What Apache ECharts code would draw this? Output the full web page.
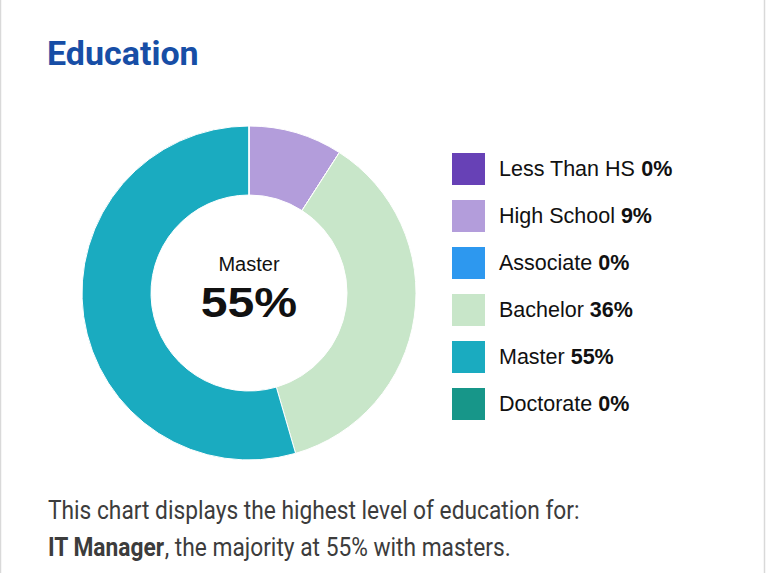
<!DOCTYPE html>
<html>
<head>
<meta charset="utf-8">
<script src="https://cdn.jsdelivr.net/npm/echarts@6/dist/echarts.min.js"></script>
<style>
html,body{margin:0;padding:0;background:#fff;}
#chart{width:768px;height:573px;}
</style>
</head>
<body>
<div id="chart"></div>
<script>
// ---- data ----
var titleText = 'Education';
var categories = ['Less Than HS', 'High School', 'Associate', 'Bachelor', 'Master', 'Doctorate'];
var values = [0, 9.1, 0, 36.4, 54.5, 0];
var colors = ['#6741b6', '#b39ddb', '#2d98ef', '#c8e6c9', '#1aabc0', '#179689'];
var occupation = 'IT Manager';
var captionLine1 = 'This chart displays the highest level of education for:';

function pct(v) { return Math.round(v) + '%'; }
var maxIdx = 0;
values.forEach(function (v, i) { if (v > values[maxIdx]) maxIdx = i; });
var topName = categories[maxIdx];
var topPct = pct(values[maxIdx]);
var degreeWord = topName.toLowerCase() + 's';

var chart = echarts.init(document.getElementById('chart'), null, { renderer: 'svg' });
var option = {
  backgroundColor: '#ffffff',
  animation: false,
  legend: {
    orient: 'vertical',
    left: 445,
    top: 146,
    itemWidth: 35,
    itemHeight: 34,
    itemGap: 11,
    icon: 'rect',
    selectedMode: false,
    data: categories,
    formatter: function (name) {
      var i = categories.indexOf(name);
      return '{n|' + name + ' }{b|' + pct(values[i]) + '}';
    },
    textStyle: {
      padding: [0, 0, 0, 8],
      rich: {
        n: { fontFamily: 'Liberation Sans', fontSize: 21.5, lineHeight: 22, color: '#111' },
        b: { fontFamily: 'Liberation Sans', fontSize: 21.5, lineHeight: 22, fontWeight: 'bold', color: '#111' }
      }
    }
  },
  series: [{
    type: 'pie',
    center: [249, 293],
    radius: [98, 167],
    startAngle: 90,
    clockwise: true,
    silent: true,
    label: { show: false },
    labelLine: { show: false },
    itemStyle: { borderColor: '#ffffff', borderWidth: 1 },
    data: categories.map(function (c, i) {
      return { name: c, value: values[i], itemStyle: { color: colors[i] } };
    })
  }],
  graphic: [
    { type: 'rect', shape: { x: 0.5, y: -2, width: 764, height: 580 }, style: { fill: 'none', stroke: '#d9d9d9', lineWidth: 1.5 } },
    { type: 'text', style: { x: 47, y: 53, text: titleText, font: 'bold 34px Roboto', fill: '#174ea6', textVerticalAlign: 'middle' } },
    { type: 'text', style: { x: 249, y: 264, text: topName, font: '20px "Liberation Sans"', fill: '#111', textAlign: 'center', textVerticalAlign: 'middle' } },
    { type: 'text', x: 249, y: 302, scaleX: 1.12, style: { x: 0, y: 0, text: topPct, font: 'bold 43px "Liberation Sans"', fill: '#111', textAlign: 'center', textVerticalAlign: 'middle' } },
    { type: 'text', x: 48, y: 510, scaleX: 0.875, style: { x: 0, y: 0, text: captionLine1, font: '26px Roboto', fill: '#3c3c3c', textVerticalAlign: 'middle' } },
    { type: 'text', x: 48, y: 547, scaleX: 0.875, style: { x: 0, y: 0, text: '{b|' + occupation + '}{n|, the majority at ' + topPct + ' with ' + degreeWord + '.}', textVerticalAlign: 'middle',
      rich: { b: { fontFamily: 'Roboto', fontSize: 26, fontWeight: 'bold', fill: '#3c3c3c' }, n: { fontFamily: 'Roboto', fontSize: 26, fill: '#3c3c3c' } } } }
  ]
};
chart.setOption(option);
</script>
</body>
</html>
